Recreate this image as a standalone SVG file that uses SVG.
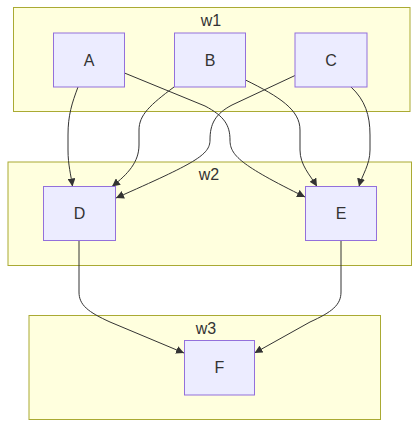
<svg xmlns="http://www.w3.org/2000/svg" width="419" height="428" viewBox="0 0 419 428">
<defs>
<style>
.cluster rect{fill:#ffffde;stroke:#aaaa33;stroke-width:1}
.node rect{fill:#ECECFF;stroke:#9370DB;stroke-width:1}
text{font-family:"Liberation Sans",Arial,sans-serif;font-size:16px;fill:#333333;text-anchor:middle;dominant-baseline:central}
.edges path{fill:none;stroke:#333333;stroke-width:1;marker-end:url(#arrow)}
</style>
<marker id="arrow" viewBox="0 0 10 10" refX="10" refY="5" markerUnits="userSpaceOnUse" markerWidth="8" markerHeight="8" orient="auto">
<path d="M0,0 L10,5 L0,10 z" fill="#333333"/>
</marker>
</defs>
<g id="w1" class="cluster"><rect x="13.5" y="7.5" width="396.5" height="104"/><text x="211" y="20">w1</text></g>
<g id="w2" class="cluster"><rect x="8" y="162" width="403.5" height="103.5"/><text x="209" y="174">w2</text></g>
<g id="w3" class="cluster"><rect x="29" y="315.5" width="351.5" height="104"/><text x="206" y="328">w3</text></g>
<g class="edges">
<path d="M78,87 C72,103 68,115 68,135 L68,150 C68,165 71,175 72.5,186.5"/>
<path d="M174,87 C150,105 139,115 139,130 L139,145 C139,162 128,174 112,186.5"/>
<path d="M295,75.5 L232,105 C215,114 210,124 210,140 C210,155 195,163 116,198"/>
<path d="M124.5,73 L205,106 C224,116 230,125 230,140 C230,155 240,165 305,197"/>
<path d="M245.5,80 C280,97 300,110 300,130 L300,150 C300,165 310,175 317,186.5"/>
<path d="M351,87 C365,100 370,115 370,135 L370,150 C370,165 362,175 359,186.5"/>
<path d="M79,241 L79,292 C79,305 88,312 110,322 L184,353"/>
<path d="M341,241 L341,292 C341,305 332,312 310,322 L254.5,353"/>
</g>
<g id="A" class="node"><rect x="53.5" y="33" width="71" height="54"/><text x="89" y="60">A</text></g>
<g id="B" class="node"><rect x="174.5" y="33" width="71" height="54"/><text x="210" y="60">B</text></g>
<g id="C" class="node"><rect x="295" y="33" width="72" height="54"/><text x="331" y="60">C</text></g>
<g id="D" class="node"><rect x="43.5" y="186.5" width="72" height="54"/><text x="79.5" y="213.5">D</text></g>
<g id="E" class="node"><rect x="305.5" y="186.5" width="71" height="54"/><text x="341" y="213.5">E</text></g>
<g id="F" class="node"><rect x="184.5" y="340.5" width="70" height="54.5"/><text x="219.5" y="367.5">F</text></g>
</svg>
